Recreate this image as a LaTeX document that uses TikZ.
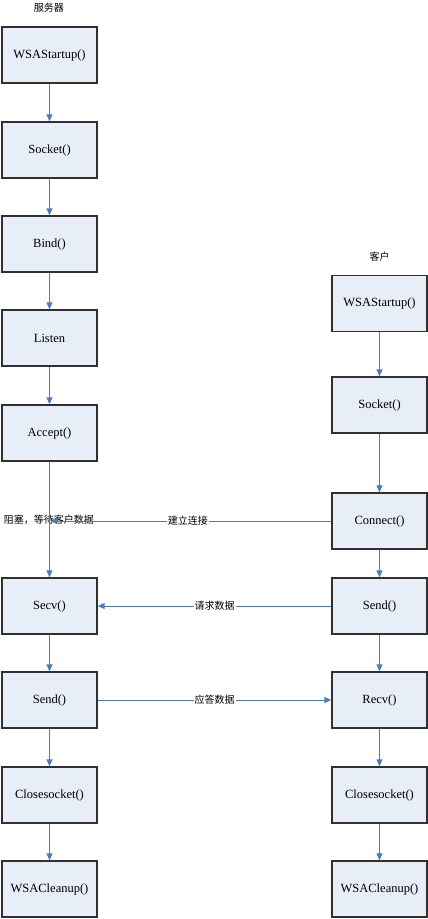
\documentclass[tikz,border=0pt]{standalone}
\usepackage{fontspec}
\setmainfont{Liberation Serif}
\newfontfamily\cjk{Noto Sans CJK SC}
\usetikzlibrary{arrows.meta}
\definecolor{boxfill}{HTML}{E8EEF8}
\definecolor{boxline}{HTML}{303030}
\definecolor{linkblue}{HTML}{4A7EBB}
\begin{document}
\begin{tikzpicture}[x=1pt,y=-1pt,
  box/.style={draw=boxline, line width=1.3pt, fill=boxfill, minimum width=95pt,
    minimum height=56pt, inner sep=0pt, font=\fontsize{12.5}{14}\selectfont},
  conn/.style={draw=linkblue, line width=1pt, -{Triangle[length=7pt,width=6pt]}},
  lbl/.style={font=\cjk\fontsize{10}{12}\selectfont, fill=white, inner sep=1pt},
  ttl/.style={font=\cjk\fontsize{10}{12}\selectfont, inner sep=1pt}]
\useasboundingbox (0,0) rectangle (428,919);
% server column
\node[ttl] (st) at (49,8) {服务器};
\node[box] (s1) at (49.5,55) {WSAStartup()};
\node[box] (s2) at (49.5,150) {Socket()};
\node[box] (s3) at (49.5,244) {Bind()};
\node[box] (s4) at (49.5,338) {Listen};
\node[box] (s5) at (49.5,433) {Accept()};
\node[box] (s6) at (49.5,606) {Secv()};
\node[box] (s7) at (49.5,700) {Send()};
\node[box] (s8) at (49.5,795) {Closesocket()};
\node[box] (s9) at (49.5,889) {WSACleanup()};
% client column
\node[ttl] (ct) at (379.5,257) {客户};
\node[box] (c1) at (379.5,303.5) {WSAStartup()};
\node[box] (c2) at (379.5,405) {Socket()};
\node[box] (c3) at (379.5,521) {Connect()};
\node[box] (c4) at (379.5,606) {Send()};
\node[box] (c5) at (379.5,700) {Recv()};
\node[box] (c6) at (379.5,795) {Closesocket()};
\node[box] (c7) at (379.5,889) {WSACleanup()};
% vertical flows
\draw[conn] (s1) -- (s2);
\draw[conn] (s2) -- (s3);
\draw[conn] (s3) -- (s4);
\draw[conn] (s4) -- (s5);
\node[ttl] (wait) at (49,520) {阻塞，等待客户数据};
\draw[conn] (s5) -- (s6);
\draw[conn] (s6) -- (s7);
\draw[conn] (s7) -- (s8);
\draw[conn] (s8) -- (s9);
\draw[conn] (c1) -- (c2);
\draw[conn] (c2) -- (c3);
\draw[conn] (c3) -- (c4);
\draw[conn] (c4) -- (c5);
\draw[conn] (c5) -- (c6);
\draw[conn] (c6) -- (c7);
% horizontal exchanges
\coordinate (hit) at (50,521);
\draw[conn] (c3.west) -- node[lbl, pos=0.51] {建立连接} (hit);
\draw[conn] (c4.west) -- node[lbl] {请求数据} (s6.east);
\draw[conn] (s7.east) -- node[lbl] {应答数据} (c5.west);
\end{tikzpicture}
\end{document}
